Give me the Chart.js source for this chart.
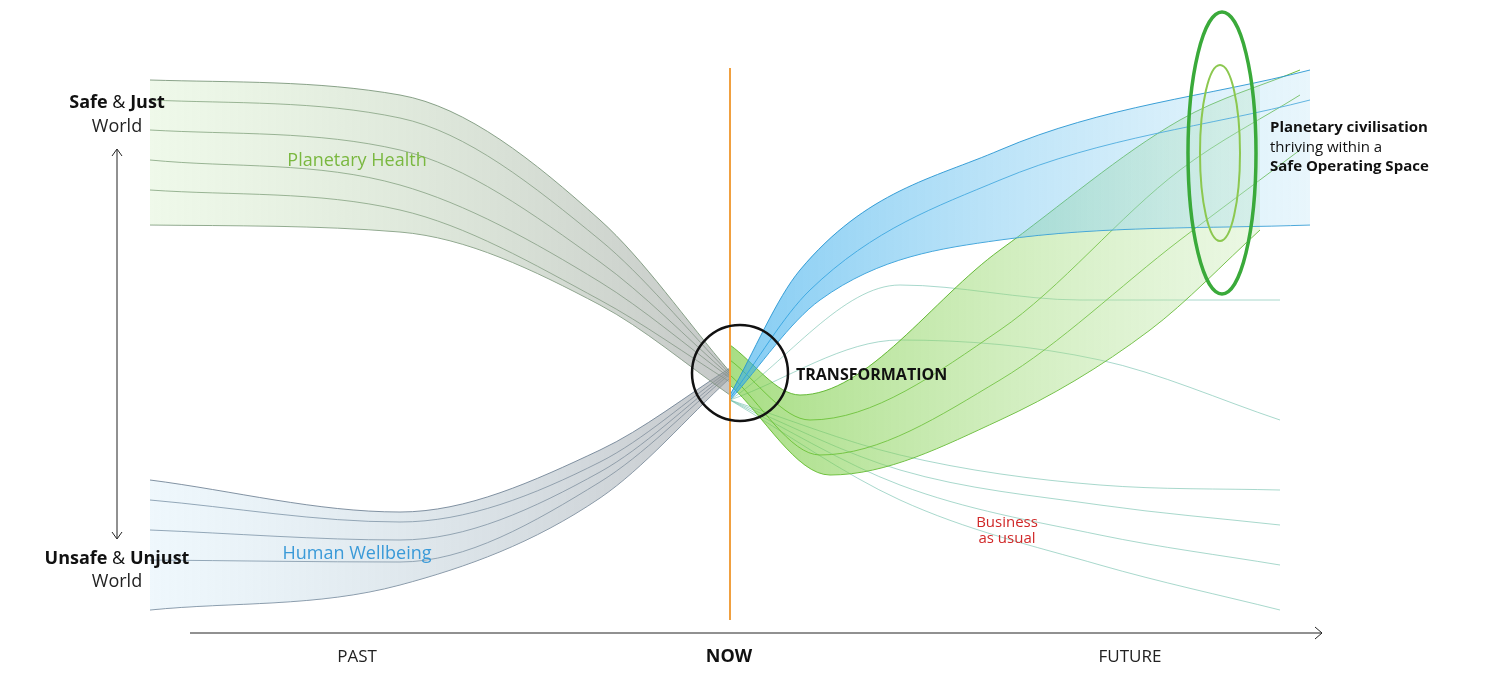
<!DOCTYPE html>
<html><head><meta charset="utf-8">
<script src="https://cdn.jsdelivr.net/npm/chart.js@4"></script>
<style>html,body{margin:0;background:#fff}#w{width:1500px;height:687px}</style>
</head><body><div id="w"><canvas id="c"></canvas></div>
<script>
// Conceptual trajectories (x: time position, y: vertical position in diagram units)
const pastTop = [
  [[150,80],[400,95],[600,220],[730,372]],
  [[150,100],[400,118],[600,240],[730,374]],
  [[150,130],[400,150],[600,262],[730,376]],
  [[150,160],[400,185],[600,282],[730,378]],
  [[150,190],[400,210],[600,300],[730,382]],
  [[150,225],[400,232],[600,305],[730,395]]
];
const pastBottom = [
  [[150,480],[400,512],[600,450],[730,368]],
  [[150,500],[400,522],[600,462],[730,370]],
  [[150,530],[400,540],[600,472],[730,372]],
  [[150,560],[400,562],[600,482],[730,374]],
  [[150,610],[400,585],[600,498],[730,378]]
];
const futureBlue = [
  [[730,395],[800,270],[1000,150],[1310,70]],
  [[730,398],[810,290],[1000,180],[1310,100]],
  [[730,400],[820,300],[1000,240],[1310,225]]
];
const futureGreen = [
  [[730,345],[800,395],[1000,250],[1180,120],[1300,70]],
  [[730,360],[810,420],[1000,330],[1180,170],[1300,95]],
  [[730,375],[820,455],[1000,380],[1180,240],[1300,150]],
  [[730,385],[830,475],[1000,420],[1150,330],[1260,230]]
];
const businessAsUsual = [
  [[730,400],[900,500],[1100,565],[1280,610]],
  [[730,400],[900,485],[1100,535],[1280,565]],
  [[730,400],[900,470],[1100,505],[1280,525]],
  [[730,400],[900,455],[1100,485],[1280,490]],
  [[730,400],[900,340],[1100,360],[1280,420]],
  [[730,400],[900,285],[1080,300],[1280,300]]
];
const labels = {yTop:["Safe & Just","World"], yBottom:["Unsafe & Unjust","World"],
  xTicks:["PAST","NOW","FUTURE"], ph:"Planetary Health", hw:"Human Wellbeing",
  tr:"TRANSFORMATION", bau:["Business","as usual"], goal:["Planetary civilisation","thriving within a","Safe Operating Space"]};

const pts = a => a.map(p=>({x:p[0],y:p[1]}));
function grad(ctx,c1,c2,x1,x2){
  const ch=ctx.chart, a=ch.chartArea; if(!a) return c2;
  const sx=ch.scales.x, g=ch.ctx.createLinearGradient(sx.getPixelForValue(x1),0,sx.getPixelForValue(x2),0);
  g.addColorStop(0,c1); g.addColorStop(1,c2); return g;
}
const ds=[];
function band(set,line,fillFn){
  set.forEach((l,i)=>ds.push({data:pts(l),borderColor:line,borderWidth:1,pointRadius:0,
    cubicInterpolationMode:'monotone',fill: i===0? {target:'+'+(set.length-1)}:false,
    backgroundColor: i===0? fillFn : 'transparent'}));
}
band(pastTop,'rgba(110,140,110,0.8)',c=>grad(c,'rgba(190,230,170,0.25)','rgba(150,155,155,0.55)',150,730));
band(pastBottom,'rgba(100,120,140,0.8)',c=>grad(c,'rgba(190,225,245,0.25)','rgba(150,155,160,0.55)',150,730));
band(futureBlue,'rgba(40,150,210,0.9)',c=>grad(c,'rgba(50,170,235,0.6)','rgba(180,225,245,0.3)',730,1310));
band(futureGreen,'rgba(90,180,40,0.9)',c=>grad(c,'rgba(110,200,50,0.6)','rgba(200,235,180,0.3)',730,1300));
businessAsUsual.forEach(l=>ds.push({data:pts(l),borderColor:'rgba(110,190,170,0.6)',borderWidth:1,pointRadius:0,cubicInterpolationMode:'monotone',fill:false}));

const deco={id:'deco',afterDatasetsDraw(ch){
  const c=ch.ctx,X=v=>ch.scales.x.getPixelForValue(v),Y=v=>ch.scales.y.getPixelForValue(v);
  c.save();
  c.strokeStyle='#f0a040';c.lineWidth=2;c.beginPath();c.moveTo(X(730),Y(68));c.lineTo(X(730),Y(620));c.stroke();
  c.strokeStyle='#111';c.lineWidth=2.5;c.beginPath();c.arc(X(740),Y(373),48,0,Math.PI*2);c.stroke();
  c.strokeStyle='#3aaa3a';c.lineWidth=3.5;c.beginPath();c.ellipse(X(1222),Y(153),34,141,0,0,Math.PI*2);c.stroke();
  c.strokeStyle='#8cc850';c.lineWidth=2;c.beginPath();c.ellipse(X(1220),Y(153),20,88,0,0,Math.PI*2);c.stroke();
  c.strokeStyle='#222';c.lineWidth=1;c.beginPath();
  c.moveTo(X(117),Y(150));c.lineTo(X(117),Y(538));
  c.moveTo(X(112),Y(156));c.lineTo(X(117),Y(149));c.lineTo(X(122),Y(156));
  c.moveTo(X(112),Y(532));c.lineTo(X(117),Y(539));c.lineTo(X(122),Y(532));
  c.moveTo(X(190),Y(633));c.lineTo(X(1322),Y(633));
  c.moveTo(X(1315),Y(627));c.lineTo(X(1322),Y(633));c.lineTo(X(1315),Y(639));
  c.stroke();
  const F='"Open Sans", sans-serif';
  function t(s,x,y,col,w,sz,al){c.fillStyle=col;c.font=(w||'normal')+' '+(sz||18)+'px '+F;c.textAlign=al||'center';c.textBaseline='middle';c.fillText(s,X(x),Y(y));}
  function mixed(parts,x,y){let tot=0;parts.forEach(p=>{c.font=(p[1]?'bold ':'')+'18px '+F;tot+=c.measureText(p[0]).width;});
    let px=X(x)-tot/2;c.textAlign='left';c.textBaseline='middle';c.fillStyle='#111';
    parts.forEach(p=>{c.font=(p[1]?'bold ':'')+'18px '+F;c.fillText(p[0],px,Y(y));px+=c.measureText(p[0]).width;});}
  mixed([["Safe",1],[" & ",0],["Just",1]],117,103); t(labels.yTop[1],117,127,'#222');
  mixed([["Unsafe",1],[" & ",0],["Unjust",1]],117,559); t(labels.yBottom[1],117,582,'#222');
  t(labels.ph,357,161,'#7ab840','normal',18);
  t(labels.hw,357,554,'#3a9ad8','normal',18);
  t(labels.tr,796,375,'#111','bold',16,'left');
  t(labels.bau[0],1007,523,'#d02828','normal',15); t(labels.bau[1],1007,539,'#d02828','normal',15);
  t(labels.goal[0],1270,128,'#111','bold',15,'left'); t(labels.goal[1],1270,148,'#111','normal',15,'left'); t(labels.goal[2],1270,167,'#111','bold',15,'left');
  t(labels.xTicks[0],357,657,'#222','normal',17); t(labels.xTicks[1],729,657,'#111','bold',18); t(labels.xTicks[2],1130,657,'#222','normal',17);
  c.restore();
}};
new Chart(document.getElementById('c'),{type:'line',data:{datasets:ds},plugins:[deco],
 options:{responsive:true,maintainAspectRatio:false,animation:false,layout:{padding:0},
  plugins:{legend:{display:false},tooltip:{enabled:false}},
  scales:{x:{type:'linear',min:0,max:1500,display:false},y:{min:0,max:687,reverse:true,display:false}}}});
</script></body></html>
